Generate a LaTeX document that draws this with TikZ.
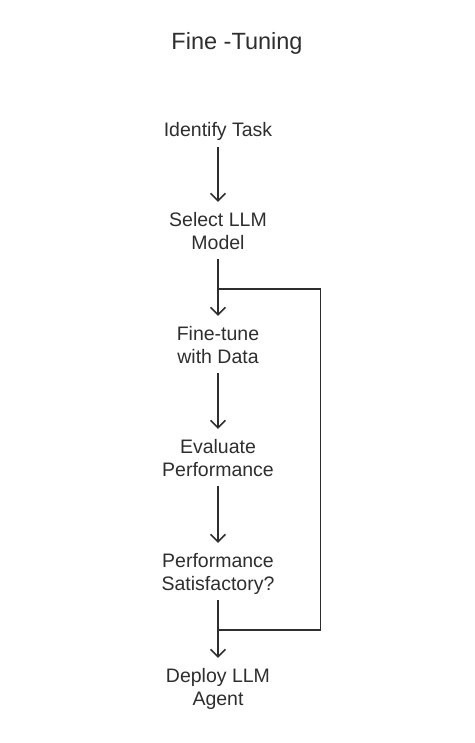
\documentclass[tikz,border=0pt]{standalone}
\usepackage{fontspec}
\setmainfont{Liberation Sans}
\usetikzlibrary{arrows.meta}
\definecolor{ink}{HTML}{2E2E2E}
\tikzset{
  stepnode/.style={inner sep=0pt, outer sep=0pt, align=center, text=ink,
    font=\fontsize{19.5}{23}\selectfont},
  arr/.style={draw=ink, line width=1.6pt, -{Straight Barb[length=7.5pt,width=15pt,line width=1.6pt]},
    shorten <=3pt, shorten >=8pt},
  loopline/.style={draw=ink, line width=1.6pt}
}
\begin{document}
\begin{tikzpicture}[x=1pt,y=-1pt]
\useasboundingbox (0,0) rectangle (474,743);
\node[anchor=base, text=ink, font=\fontsize{23.5}{28}\selectfont] (title) at (237,50) {Fine -Tuning};
\node[stepnode] (n1) at (218,132.4) {\strut Identify Task};
\node[stepnode] (n2) at (218,232.9) {\strut Select LLM\\\strut Model};
\node[stepnode] (n3) at (218,346.9) {\strut Fine-tune\\\strut with Data};
\node[stepnode] (n4) at (218,459.9) {\strut Evaluate\\\strut Performance};
\node[stepnode] (n5) at (218,573.9) {\strut Performance\\\strut Satisfactory?};
\node[stepnode] (n6) at (218,688.9) {\strut Deploy LLM\\\strut Agent};
\draw[arr] (n1) -- (n2);
\draw[arr] (n2) -- (n3);
\draw[arr] (n3) -- (n4);
\draw[arr] (n4) -- (n5);
\draw[arr] (n5) -- (n6);
\coordinate (jlow) at (218,630);
\coordinate (jhigh) at (218,289);
\coordinate (rside) at (320.5,460);
\draw[loopline] (jlow) -| (rside) |- (jhigh);
\end{tikzpicture}
\end{document}
